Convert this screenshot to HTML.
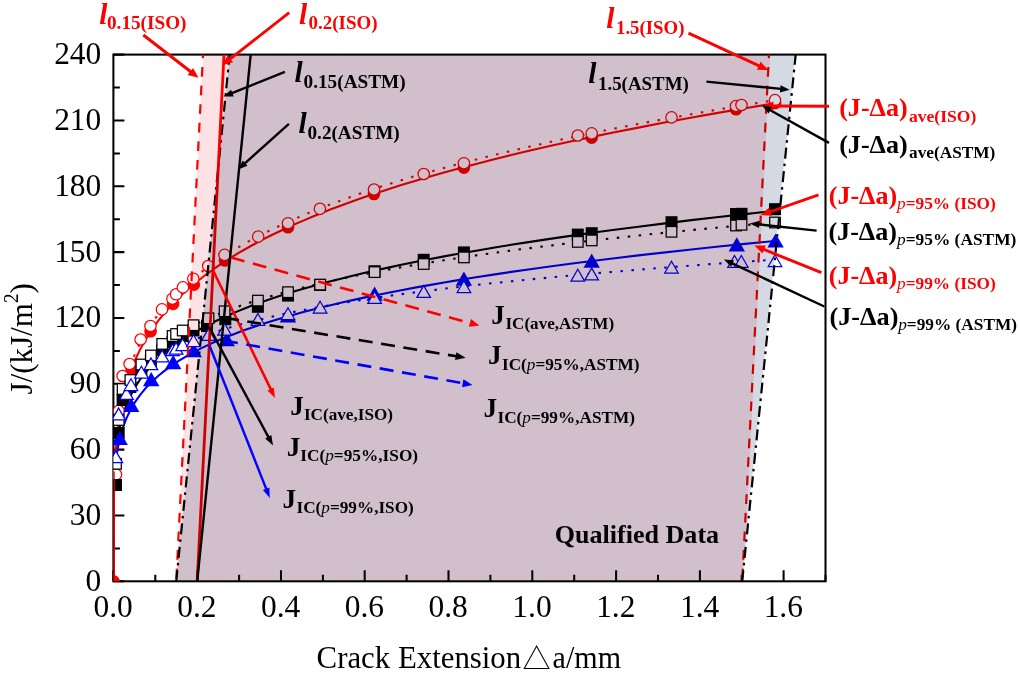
<!DOCTYPE html>
<html lang="en"><head><meta charset="utf-8"><title>J-R curves</title>
<style>html,body{margin:0;padding:0;background:#fff}svg{display:block}</style></head>
<body>
<svg width="1020" height="673" viewBox="0 0 1020 673" style="display:block">
<rect width="1020" height="673" fill="#fff"/>
<defs><clipPath id="cp"><rect x="113.4" y="54.6" width="712.1" height="526.7"/></clipPath></defs>
<rect x="113.4" y="54.6" width="712.1" height="526.7" fill="none" stroke="#000" stroke-width="2.05"/>
<path d="M113.4,581.3 v-11.0 M155.3,581.3 v-6.5 M197.2,581.3 v-11.0 M239.1,581.3 v-6.5 M281.0,581.3 v-11.0 M322.9,581.3 v-6.5 M364.7,581.3 v-11.0 M406.6,581.3 v-6.5 M448.5,581.3 v-11.0 M490.4,581.3 v-6.5 M532.3,581.3 v-11.0 M574.2,581.3 v-6.5 M616.1,581.3 v-11.0 M658.0,581.3 v-6.5 M699.9,581.3 v-11.0 M741.7,581.3 v-6.5 M783.6,581.3 v-11.0 M825.5,581.3 v-6.5 M113.4,581.3 h11.0 M113.4,548.4 h6.5 M113.4,515.5 h11.0 M113.4,482.5 h6.5 M113.4,449.6 h11.0 M113.4,416.7 h6.5 M113.4,383.8 h11.0 M113.4,350.9 h6.5 M113.4,317.9 h11.0 M113.4,285.0 h6.5 M113.4,252.1 h11.0 M113.4,219.2 h6.5 M113.4,186.3 h11.0 M113.4,153.4 h6.5 M113.4,120.4 h11.0 M113.4,87.5 h6.5 M113.4,54.6 h11.0" stroke="#000" stroke-width="2.05" fill="none"/>
<g clip-path="url(#cp)">
<rect x="111.4" y="52.6" width="716.1" height="530.7" fill="#fff"/>
<rect x="113.4" y="54.6" width="712.1" height="526.7" fill="none" stroke="#000" stroke-width="2.05"/>
<path d="M113.4,581.3 v-11.0 M155.3,581.3 v-6.5 M197.2,581.3 v-11.0 M239.1,581.3 v-6.5 M281.0,581.3 v-11.0 M322.9,581.3 v-6.5 M364.7,581.3 v-11.0 M406.6,581.3 v-6.5 M448.5,581.3 v-11.0 M490.4,581.3 v-6.5 M532.3,581.3 v-11.0 M574.2,581.3 v-6.5 M616.1,581.3 v-11.0 M658.0,581.3 v-6.5 M699.9,581.3 v-11.0 M741.7,581.3 v-6.5 M783.6,581.3 v-11.0 M825.5,581.3 v-6.5 M113.4,581.3 h11.0 M113.4,548.4 h6.5 M113.4,515.5 h11.0 M113.4,482.5 h6.5 M113.4,449.6 h11.0 M113.4,416.7 h6.5 M113.4,383.8 h11.0 M113.4,350.9 h6.5 M113.4,317.9 h11.0 M113.4,285.0 h6.5 M113.4,252.1 h11.0 M113.4,219.2 h6.5 M113.4,186.3 h11.0 M113.4,153.4 h6.5 M113.4,120.4 h11.0 M113.4,87.5 h6.5 M113.4,54.6 h11.0" stroke="#000" stroke-width="2.05" fill="none"/>
<path d="M113.4,581.3 L113.4,542.9 L113.4,542.5 L113.4,542.2 L113.4,541.8 L113.4,541.5 L113.4,541.1 L113.4,540.8 L113.4,540.4 L113.4,540.1 L113.4,539.7 L113.4,539.3 L113.4,539.0 L113.4,538.6 L113.4,538.2 L113.4,537.8 L113.4,537.5 L113.4,537.1 L113.4,536.7 L113.4,536.3 L113.4,535.9 L113.4,535.5 L113.4,535.1 L113.4,534.7 L113.4,534.3 L113.4,533.9 L113.4,533.5 L113.4,533.0 L113.4,532.6 L113.4,532.2 L113.4,531.8 L113.4,531.3 L113.4,530.9 L113.4,530.4 L113.4,530.0 L113.4,529.5 L113.4,529.1 L113.4,528.6 L113.4,528.2 L113.4,527.7 L113.4,527.2 L113.4,526.7 L113.4,526.3 L113.4,525.8 L113.4,525.3 L113.4,524.8 L113.4,524.3 L113.4,523.8 L113.4,523.3 L113.4,522.8 L113.4,522.3 L113.4,521.8 L113.4,521.2 L113.4,520.7 L113.4,520.2 L113.5,519.6 L113.5,519.1 L113.5,518.6 L113.5,518.0 L113.5,517.4 L113.5,516.9 L113.5,516.3 L113.5,515.7 L113.5,515.2 L113.5,514.6 L113.5,514.0 L113.5,513.4 L113.5,512.8 L113.5,512.2 L113.5,511.6 L113.5,511.0 L113.5,510.4 L113.5,509.8 L113.5,509.1 L113.5,508.5 L113.5,507.9 L113.5,507.2 L113.5,506.6 L113.5,505.9 L113.6,505.2 L113.6,504.6 L113.6,503.9 L113.6,503.2 L113.6,502.5 L113.6,501.8 L113.6,501.1 L113.6,500.4 L113.6,499.7 L113.6,499.0 L113.6,498.3 L113.7,497.6 L113.7,496.8 L113.7,496.1 L113.7,495.3 L113.7,494.6 L113.7,493.8 L113.7,493.0 L113.8,492.3 L113.8,491.5 L113.8,490.7 L113.8,489.9 L113.8,489.1 L113.8,488.3 L113.9,487.5 L113.9,486.6 L113.9,485.8 L113.9,485.0 L114.0,484.1 L114.0,483.3 L114.0,482.4 L114.0,481.5 L114.1,480.7 L114.1,479.8 L114.1,478.9 L114.2,478.0 L114.2,477.1 L114.3,476.2 L114.3,475.3 L114.3,474.3 L114.4,473.4 L114.4,472.4 L114.5,471.5 L114.5,470.5 L114.6,469.5 L114.6,468.6 L114.7,467.6 L114.8,466.6 L114.8,465.6 L114.9,464.5 L115.0,463.5 L115.0,462.5 L115.1,461.4 L115.2,460.4 L115.3,459.3 L115.4,458.2 L115.4,457.2 L115.5,456.1 L115.6,455.0 L115.8,453.9 L115.9,452.7 L116.0,451.6 L116.1,450.5 L116.2,449.3 L116.4,448.2 L116.5,447.0 L116.7,445.8 L116.8,444.6 L117.0,443.4 L117.1,442.2 L117.3,441.0 L117.5,439.8 L117.7,438.5 L117.9,437.3 L118.1,436.0 L118.3,434.7 L118.6,433.4 L118.8,432.1 L119.1,430.8 L119.3,429.5 L119.6,428.2 L119.9,426.8 L120.2,425.5 L120.5,424.1 L120.9,422.7 L121.2,421.3 L121.6,419.9 L122.0,418.5 L122.4,417.1 L122.8,415.6 L123.3,414.2 L123.7,412.7 L124.2,411.2 L124.7,409.7 L125.3,408.2 L125.8,406.7 L126.4,405.2 L127.0,403.6 L127.7,402.1 L128.4,400.5 L129.1,398.9 L129.8,397.3 L130.6,395.7 L131.4,394.0 L132.2,392.4 L133.1,390.7 L134.1,389.1 L135.0,387.4 L136.1,385.7 L137.1,384.0 L138.3,382.2 L139.4,380.5 L140.7,378.7 L142.0,376.9 L143.3,375.1 L144.7,373.3 L146.2,371.5 L147.8,369.7 L149.4,367.8 L151.1,365.9 L152.9,364.0 L154.7,362.1 L156.7,360.2 L158.7,358.2 L160.9,356.3 L163.1,354.3 L165.5,352.3 L167.9,350.3 L170.5,348.3 L173.2,346.2 L176.0,344.2 L179.0,342.1 L182.1,340.0 L185.4,337.9 L188.8,335.7 L192.3,333.6 L196.1,331.4 L200.0,329.2 L204.1,327.0 L208.4,324.7 L212.8,322.5 L217.5,320.2 L222.5,317.9 L227.6,315.6 L233.0,313.3 L238.7,310.9 L244.6,308.5 L250.8,306.1 L257.3,303.7 L264.1,301.3 L271.3,298.8 L278.7,296.3 L286.6,293.8 L294.7,291.3 L303.3,288.8 L312.3,286.2 L321.7,283.6 L331.6,281.0 L341.9,278.4 L352.7,275.7 L364.0,273.0 L375.9,270.3 L388.3,267.6 L401.3,264.8 L414.9,262.0 L429.2,259.2 L444.1,256.4 L459.7,253.5 L476.1,250.7 L493.3,247.8 L511.2,244.8 L530.1,241.9 L549.8,238.9 L570.4,235.9 L592.0,232.8 L614.7,229.8 L638.4,226.7 L663.2,223.6 L689.2,220.4 L716.4,217.3 L745.0,214.1 L774.8,210.8" fill="none" stroke="#000000" stroke-width="2.1" stroke-linejoin="round"/>
<path d="M113.4,581.3 L113.4,545.3 L113.4,545.0 L113.4,544.7 L113.4,544.4 L113.4,544.0 L113.4,543.7 L113.4,543.4 L113.4,543.1 L113.4,542.7 L113.4,542.4 L113.4,542.1 L113.4,541.7 L113.4,541.4 L113.4,541.0 L113.4,540.7 L113.4,540.3 L113.4,540.0 L113.4,539.6 L113.4,539.2 L113.4,538.9 L113.4,538.5 L113.4,538.1 L113.4,537.7 L113.4,537.4 L113.4,537.0 L113.4,536.6 L113.4,536.2 L113.4,535.8 L113.4,535.4 L113.4,535.0 L113.4,534.6 L113.4,534.2 L113.4,533.8 L113.4,533.4 L113.4,533.0 L113.4,532.5 L113.4,532.1 L113.4,531.7 L113.4,531.3 L113.4,530.8 L113.4,530.4 L113.4,529.9 L113.4,529.5 L113.4,529.0 L113.4,528.6 L113.4,528.1 L113.4,527.7 L113.4,527.2 L113.4,526.7 L113.4,526.2 L113.4,525.8 L113.4,525.3 L113.4,524.8 L113.4,524.3 L113.5,523.8 L113.5,523.3 L113.5,522.8 L113.5,522.3 L113.5,521.8 L113.5,521.3 L113.5,520.7 L113.5,520.2 L113.5,519.7 L113.5,519.1 L113.5,518.6 L113.5,518.1 L113.5,517.5 L113.5,516.9 L113.5,516.4 L113.5,515.8 L113.5,515.2 L113.5,514.7 L113.5,514.1 L113.5,513.5 L113.5,512.9 L113.5,512.3 L113.5,511.7 L113.5,511.1 L113.6,510.5 L113.6,509.9 L113.6,509.3 L113.6,508.6 L113.6,508.0 L113.6,507.4 L113.6,506.7 L113.6,506.1 L113.6,505.4 L113.6,504.8 L113.6,504.1 L113.7,503.4 L113.7,502.7 L113.7,502.1 L113.7,501.4 L113.7,500.7 L113.7,500.0 L113.7,499.3 L113.8,498.5 L113.8,497.8 L113.8,497.1 L113.8,496.4 L113.8,495.6 L113.8,494.9 L113.9,494.1 L113.9,493.4 L113.9,492.6 L113.9,491.8 L114.0,491.0 L114.0,490.3 L114.0,489.5 L114.0,488.7 L114.1,487.9 L114.1,487.0 L114.1,486.2 L114.2,485.4 L114.2,484.6 L114.3,483.7 L114.3,482.9 L114.3,482.0 L114.4,481.1 L114.4,480.3 L114.5,479.4 L114.5,478.5 L114.6,477.6 L114.6,476.7 L114.7,475.8 L114.8,474.9 L114.8,473.9 L114.9,473.0 L115.0,472.1 L115.0,471.1 L115.1,470.1 L115.2,469.2 L115.3,468.2 L115.4,467.2 L115.4,466.2 L115.5,465.2 L115.6,464.2 L115.8,463.2 L115.9,462.2 L116.0,461.1 L116.1,460.1 L116.2,459.0 L116.4,458.0 L116.5,456.9 L116.7,455.8 L116.8,454.7 L117.0,453.6 L117.1,452.5 L117.3,451.4 L117.5,450.2 L117.7,449.1 L117.9,447.9 L118.1,446.8 L118.3,445.6 L118.6,444.4 L118.8,443.2 L119.1,442.0 L119.3,440.8 L119.6,439.6 L119.9,438.4 L120.2,437.1 L120.5,435.9 L120.9,434.6 L121.2,433.3 L121.6,432.0 L122.0,430.7 L122.4,429.4 L122.8,428.1 L123.3,426.7 L123.7,425.4 L124.2,424.0 L124.7,422.7 L125.3,421.3 L125.8,419.9 L126.4,418.5 L127.0,417.1 L127.7,415.6 L128.4,414.2 L129.1,412.7 L129.8,411.3 L130.6,409.8 L131.4,408.3 L132.2,406.8 L133.1,405.3 L134.1,403.7 L135.0,402.2 L136.1,400.6 L137.1,399.1 L138.3,397.5 L139.4,395.9 L140.7,394.2 L142.0,392.6 L143.3,391.0 L144.7,389.3 L146.2,387.6 L147.8,386.0 L149.4,384.3 L151.1,382.5 L152.9,380.8 L154.7,379.1 L156.7,377.3 L158.7,375.5 L160.9,373.7 L163.1,371.9 L165.5,370.1 L167.9,368.3 L170.5,366.4 L173.2,364.5 L176.0,362.6 L179.0,360.7 L182.1,358.8 L185.4,356.9 L188.8,354.9 L192.3,352.9 L196.1,351.0 L200.0,348.9 L204.1,346.9 L208.4,344.9 L212.8,342.8 L217.5,340.7 L222.5,338.6 L227.6,336.5 L233.0,334.4 L238.7,332.3 L244.6,330.1 L250.8,327.9 L257.3,325.7 L264.1,323.5 L271.3,321.2 L278.7,318.9 L286.6,316.7 L294.7,314.4 L303.3,312.0 L312.3,309.7 L321.7,307.3 L331.6,304.9 L341.9,302.5 L352.7,300.1 L364.0,297.6 L375.9,295.2 L388.3,292.7 L401.3,290.2 L414.9,287.6 L429.2,285.1 L444.1,282.5 L459.7,279.9 L476.1,277.3 L493.3,274.6 L511.2,271.9 L530.1,269.2 L549.8,266.5 L570.4,263.8 L592.0,261.0 L614.7,258.2 L638.4,255.4 L663.2,252.6 L689.2,249.7 L716.4,246.8 L745.0,243.9 L774.8,241.0" fill="none" stroke="#0000ff" stroke-width="2.1" stroke-linejoin="round"/>
<path d="M113.4,581.3 L113.4,549.2 L113.4,548.9 L113.4,548.5 L113.4,548.2 L113.4,547.8 L113.4,547.5 L113.4,547.1 L113.4,546.8 L113.4,546.4 L113.4,546.0 L113.4,545.7 L113.4,545.3 L113.4,544.9 L113.4,544.5 L113.4,544.2 L113.4,543.8 L113.4,543.4 L113.4,543.0 L113.4,542.6 L113.4,542.2 L113.4,541.8 L113.4,541.3 L113.4,540.9 L113.4,540.5 L113.4,540.1 L113.4,539.6 L113.4,539.2 L113.4,538.8 L113.4,538.3 L113.4,537.9 L113.4,537.4 L113.4,537.0 L113.4,536.5 L113.4,536.0 L113.4,535.5 L113.4,535.1 L113.4,534.6 L113.4,534.1 L113.4,533.6 L113.4,533.1 L113.4,532.6 L113.4,532.1 L113.4,531.6 L113.4,531.0 L113.4,530.5 L113.4,530.0 L113.4,529.4 L113.4,528.9 L113.4,528.3 L113.4,527.8 L113.4,527.2 L113.4,526.7 L113.4,526.1 L113.4,525.5 L113.5,524.9 L113.5,524.3 L113.5,523.7 L113.5,523.1 L113.5,522.5 L113.5,521.9 L113.5,521.3 L113.5,520.7 L113.5,520.0 L113.5,519.4 L113.5,518.7 L113.5,518.1 L113.5,517.4 L113.5,516.7 L113.5,516.1 L113.5,515.4 L113.5,514.7 L113.5,514.0 L113.5,513.3 L113.5,512.6 L113.5,511.9 L113.5,511.1 L113.5,510.4 L113.5,509.7 L113.6,508.9 L113.6,508.1 L113.6,507.4 L113.6,506.6 L113.6,505.8 L113.6,505.0 L113.6,504.2 L113.6,503.4 L113.6,502.6 L113.6,501.8 L113.6,500.9 L113.7,500.1 L113.7,499.2 L113.7,498.4 L113.7,497.5 L113.7,496.6 L113.7,495.8 L113.7,494.9 L113.8,494.0 L113.8,493.0 L113.8,492.1 L113.8,491.2 L113.8,490.2 L113.8,489.3 L113.9,488.3 L113.9,487.3 L113.9,486.4 L113.9,485.4 L114.0,484.3 L114.0,483.3 L114.0,482.3 L114.0,481.3 L114.1,480.2 L114.1,479.2 L114.1,478.1 L114.2,477.0 L114.2,475.9 L114.3,474.8 L114.3,473.7 L114.3,472.6 L114.4,471.4 L114.4,470.3 L114.5,469.1 L114.5,467.9 L114.6,466.7 L114.6,465.5 L114.7,464.3 L114.8,463.1 L114.8,461.9 L114.9,460.6 L115.0,459.4 L115.0,458.1 L115.1,456.8 L115.2,455.5 L115.3,454.2 L115.4,452.8 L115.4,451.5 L115.5,450.1 L115.6,448.7 L115.8,447.4 L115.9,445.9 L116.0,444.5 L116.1,443.1 L116.2,441.6 L116.4,440.2 L116.5,438.7 L116.7,437.2 L116.8,435.7 L117.0,434.2 L117.1,432.6 L117.3,431.1 L117.5,429.5 L117.7,427.9 L117.9,426.3 L118.1,424.7 L118.3,423.0 L118.6,421.4 L118.8,419.7 L119.1,418.0 L119.3,416.3 L119.6,414.6 L119.9,412.8 L120.2,411.0 L120.5,409.3 L120.9,407.5 L121.2,405.6 L121.6,403.8 L122.0,401.9 L122.4,400.1 L122.8,398.2 L123.3,396.2 L123.7,394.3 L124.2,392.3 L124.7,390.4 L125.3,388.3 L125.8,386.3 L126.4,384.3 L127.0,382.2 L127.7,380.1 L128.4,378.0 L129.1,375.9 L129.8,373.7 L130.6,371.6 L131.4,369.4 L132.2,367.1 L133.1,364.9 L134.1,362.6 L135.0,360.3 L136.1,358.0 L137.1,355.7 L138.3,353.3 L139.4,350.9 L140.7,348.5 L142.0,346.1 L143.3,343.6 L144.7,341.1 L146.2,338.6 L147.8,336.1 L149.4,333.5 L151.1,330.9 L152.9,328.3 L154.7,325.6 L156.7,322.9 L158.7,320.2 L160.9,317.5 L163.1,314.7 L165.5,311.9 L167.9,309.1 L170.5,306.2 L173.2,303.4 L176.0,300.4 L179.0,297.5 L182.1,294.5 L185.4,291.5 L188.8,288.5 L192.3,285.4 L196.1,282.3 L200.0,279.2 L204.1,276.0 L208.4,272.8 L212.8,269.6 L217.5,266.3 L222.5,263.0 L227.6,259.7 L233.0,256.3 L238.7,252.9 L244.6,249.5 L250.8,246.0 L257.3,242.5 L264.1,238.9 L271.3,235.3 L278.7,231.7 L286.6,228.0 L294.7,224.3 L303.3,220.6 L312.3,216.8 L321.7,213.0 L331.6,209.1 L341.9,205.2 L352.7,201.3 L364.0,197.3 L375.9,193.3 L388.3,189.2 L401.3,185.1 L414.9,180.9 L429.2,176.7 L444.1,172.5 L459.7,168.2 L476.1,163.9 L493.3,159.5 L511.2,155.1 L530.1,150.6 L549.8,146.1 L570.4,141.5 L592.0,136.9 L614.7,132.3 L638.4,127.6 L663.2,122.8 L689.2,118.0 L716.4,113.1 L745.0,108.2 L774.8,103.3" fill="none" stroke="#ff0000" stroke-width="2.1" stroke-linejoin="round"/>
<path d="M113.4,581.3 L113.4,528.6 L113.4,528.2 L113.4,527.8 L113.4,527.4 L113.4,527.0 L113.4,526.6 L113.4,526.2 L113.4,525.8 L113.4,525.4 L113.4,524.9 L113.4,524.5 L113.4,524.1 L113.4,523.7 L113.4,523.3 L113.4,522.8 L113.4,522.4 L113.4,522.0 L113.4,521.5 L113.4,521.1 L113.4,520.6 L113.4,520.2 L113.4,519.7 L113.4,519.3 L113.4,518.8 L113.4,518.3 L113.4,517.9 L113.4,517.4 L113.4,516.9 L113.4,516.4 L113.4,516.0 L113.4,515.5 L113.4,515.0 L113.4,514.5 L113.4,514.0 L113.4,513.5 L113.4,513.0 L113.4,512.5 L113.4,512.0 L113.4,511.5 L113.4,510.9 L113.4,510.4 L113.4,509.9 L113.4,509.4 L113.4,508.8 L113.4,508.3 L113.4,507.7 L113.4,507.2 L113.4,506.6 L113.4,506.1 L113.4,505.5 L113.4,505.0 L113.4,504.4 L113.4,503.8 L113.4,503.2 L113.5,502.7 L113.5,502.1 L113.5,501.5 L113.5,500.9 L113.5,500.3 L113.5,499.7 L113.5,499.1 L113.5,498.5 L113.5,497.9 L113.5,497.2 L113.5,496.6 L113.5,496.0 L113.5,495.4 L113.5,494.7 L113.5,494.1 L113.5,493.4 L113.5,492.8 L113.5,492.1 L113.5,491.5 L113.5,490.8 L113.5,490.1 L113.5,489.4 L113.5,488.8 L113.5,488.1 L113.6,487.4 L113.6,486.7 L113.6,486.0 L113.6,485.3 L113.6,484.5 L113.6,483.8 L113.6,483.1 L113.6,482.4 L113.6,481.6 L113.6,480.9 L113.6,480.2 L113.7,479.4 L113.7,478.6 L113.7,477.9 L113.7,477.1 L113.7,476.3 L113.7,475.6 L113.7,474.8 L113.8,474.0 L113.8,473.2 L113.8,472.4 L113.8,471.6 L113.8,470.8 L113.8,469.9 L113.9,469.1 L113.9,468.3 L113.9,467.4 L113.9,466.6 L114.0,465.7 L114.0,464.9 L114.0,464.0 L114.0,463.1 L114.1,462.3 L114.1,461.4 L114.1,460.5 L114.2,459.6 L114.2,458.7 L114.3,457.8 L114.3,456.8 L114.3,455.9 L114.4,455.0 L114.4,454.0 L114.5,453.1 L114.5,452.2 L114.6,451.2 L114.6,450.2 L114.7,449.3 L114.8,448.3 L114.8,447.3 L114.9,446.3 L115.0,445.3 L115.0,444.3 L115.1,443.3 L115.2,442.2 L115.3,441.2 L115.4,440.1 L115.4,439.1 L115.5,438.0 L115.6,437.0 L115.8,435.9 L115.9,434.8 L116.0,433.7 L116.1,432.6 L116.2,431.5 L116.4,430.4 L116.5,429.3 L116.7,428.2 L116.8,427.0 L117.0,425.9 L117.1,424.7 L117.3,423.6 L117.5,422.4 L117.7,421.2 L117.9,420.0 L118.1,418.8 L118.3,417.6 L118.6,416.4 L118.8,415.2 L119.1,413.9 L119.3,412.7 L119.6,411.4 L119.9,410.2 L120.2,408.9 L120.5,407.6 L120.9,406.3 L121.2,405.0 L121.6,403.7 L122.0,402.4 L122.4,401.1 L122.8,399.7 L123.3,398.4 L123.7,397.0 L124.2,395.7 L124.7,394.3 L125.3,392.9 L125.8,391.5 L126.4,390.1 L127.0,388.7 L127.7,387.2 L128.4,385.8 L129.1,384.3 L129.8,382.9 L130.6,381.4 L131.4,379.9 L132.2,378.4 L133.1,376.9 L134.1,375.4 L135.0,373.8 L136.1,372.3 L137.1,370.8 L138.3,369.2 L139.4,367.6 L140.7,366.0 L142.0,364.4 L143.3,362.8 L144.7,361.2 L146.2,359.6 L147.8,357.9 L149.4,356.2 L151.1,354.6 L152.9,352.9 L154.7,351.2 L156.7,349.5 L158.7,347.8 L160.9,346.0 L163.1,344.3 L165.5,342.5 L167.9,340.7 L170.5,338.9 L173.2,337.1 L176.0,335.3 L179.0,333.5 L182.1,331.7 L185.4,329.8 L188.8,327.9 L192.3,326.1 L196.1,324.2 L200.0,322.2 L204.1,320.3 L208.4,318.4 L212.8,316.4 L217.5,314.5 L222.5,312.5 L227.6,310.5 L233.0,308.5 L238.7,306.4 L244.6,304.4 L250.8,302.3 L257.3,300.3 L264.1,298.2 L271.3,296.1 L278.7,293.9 L286.6,291.8 L294.7,289.7 L303.3,287.5 L312.3,285.3 L321.7,283.1 L331.6,280.9 L341.9,278.7 L352.7,276.4 L364.0,274.1 L375.9,271.9 L388.3,269.6 L401.3,267.2 L414.9,264.9 L429.2,262.6 L444.1,260.2 L459.7,257.8 L476.1,255.4 L493.3,253.0 L511.2,250.5 L530.1,248.1 L549.8,245.6 L570.4,243.1 L592.0,240.6 L614.7,238.1 L638.4,235.5 L663.2,232.9 L689.2,230.3 L716.4,227.7 L745.0,225.1 L774.8,222.5" fill="none" stroke="#000000" stroke-width="2.1" stroke-dasharray="2.5 8.5" stroke-dashoffset="4"/>
<path d="M113.4,581.3 L113.4,518.5 L113.4,518.1 L113.4,517.7 L113.4,517.3 L113.4,516.9 L113.4,516.5 L113.4,516.1 L113.4,515.7 L113.4,515.2 L113.4,514.8 L113.4,514.4 L113.4,514.0 L113.4,513.6 L113.4,513.1 L113.4,512.7 L113.4,512.3 L113.4,511.8 L113.4,511.4 L113.4,510.9 L113.4,510.5 L113.4,510.1 L113.4,509.6 L113.4,509.1 L113.4,508.7 L113.4,508.2 L113.4,507.8 L113.4,507.3 L113.4,506.8 L113.4,506.4 L113.4,505.9 L113.4,505.4 L113.4,504.9 L113.4,504.5 L113.4,504.0 L113.4,503.5 L113.4,503.0 L113.4,502.5 L113.4,502.0 L113.4,501.5 L113.4,501.0 L113.4,500.5 L113.4,500.0 L113.4,499.5 L113.4,498.9 L113.4,498.4 L113.4,497.9 L113.4,497.4 L113.4,496.8 L113.4,496.3 L113.4,495.8 L113.4,495.2 L113.4,494.7 L113.4,494.1 L113.4,493.6 L113.5,493.0 L113.5,492.5 L113.5,491.9 L113.5,491.3 L113.5,490.8 L113.5,490.2 L113.5,489.6 L113.5,489.0 L113.5,488.4 L113.5,487.9 L113.5,487.3 L113.5,486.7 L113.5,486.1 L113.5,485.5 L113.5,484.9 L113.5,484.3 L113.5,483.6 L113.5,483.0 L113.5,482.4 L113.5,481.8 L113.5,481.2 L113.5,480.5 L113.5,479.9 L113.5,479.2 L113.6,478.6 L113.6,477.9 L113.6,477.3 L113.6,476.6 L113.6,476.0 L113.6,475.3 L113.6,474.6 L113.6,474.0 L113.6,473.3 L113.6,472.6 L113.6,471.9 L113.7,471.2 L113.7,470.5 L113.7,469.8 L113.7,469.1 L113.7,468.4 L113.7,467.7 L113.7,467.0 L113.8,466.2 L113.8,465.5 L113.8,464.8 L113.8,464.0 L113.8,463.3 L113.8,462.6 L113.9,461.8 L113.9,461.1 L113.9,460.3 L113.9,459.5 L114.0,458.8 L114.0,458.0 L114.0,457.2 L114.0,456.4 L114.1,455.6 L114.1,454.8 L114.1,454.0 L114.2,453.2 L114.2,452.4 L114.3,451.6 L114.3,450.8 L114.3,450.0 L114.4,449.1 L114.4,448.3 L114.5,447.4 L114.5,446.6 L114.6,445.7 L114.6,444.9 L114.7,444.0 L114.8,443.2 L114.8,442.3 L114.9,441.4 L115.0,440.5 L115.0,439.6 L115.1,438.7 L115.2,437.8 L115.3,436.9 L115.4,436.0 L115.4,435.1 L115.5,434.2 L115.6,433.2 L115.8,432.3 L115.9,431.4 L116.0,430.4 L116.1,429.5 L116.2,428.5 L116.4,427.5 L116.5,426.6 L116.7,425.6 L116.8,424.6 L117.0,423.6 L117.1,422.6 L117.3,421.6 L117.5,420.6 L117.7,419.6 L117.9,418.5 L118.1,417.5 L118.3,416.5 L118.6,415.4 L118.8,414.4 L119.1,413.3 L119.3,412.3 L119.6,411.2 L119.9,410.1 L120.2,409.0 L120.5,408.0 L120.9,406.9 L121.2,405.8 L121.6,404.6 L122.0,403.5 L122.4,402.4 L122.8,401.3 L123.3,400.1 L123.7,399.0 L124.2,397.8 L124.7,396.7 L125.3,395.5 L125.8,394.3 L126.4,393.1 L127.0,392.0 L127.7,390.8 L128.4,389.6 L129.1,388.3 L129.8,387.1 L130.6,385.9 L131.4,384.7 L132.2,383.4 L133.1,382.2 L134.1,380.9 L135.0,379.6 L136.1,378.4 L137.1,377.1 L138.3,375.8 L139.4,374.5 L140.7,373.2 L142.0,371.9 L143.3,370.5 L144.7,369.2 L146.2,367.9 L147.8,366.5 L149.4,365.1 L151.1,363.8 L152.9,362.4 L154.7,361.0 L156.7,359.6 L158.7,358.2 L160.9,356.8 L163.1,355.4 L165.5,354.0 L167.9,352.5 L170.5,351.1 L173.2,349.6 L176.0,348.2 L179.0,346.7 L182.1,345.2 L185.4,343.7 L188.8,342.2 L192.3,340.7 L196.1,339.2 L200.0,337.6 L204.1,336.1 L208.4,334.5 L212.8,333.0 L217.5,331.4 L222.5,329.8 L227.6,328.2 L233.0,326.6 L238.7,325.0 L244.6,323.4 L250.8,321.8 L257.3,320.1 L264.1,318.5 L271.3,316.8 L278.7,315.1 L286.6,313.5 L294.7,311.8 L303.3,310.1 L312.3,308.3 L321.7,306.6 L331.6,304.9 L341.9,303.1 L352.7,301.4 L364.0,299.6 L375.9,297.8 L388.3,296.0 L401.3,294.2 L414.9,292.4 L429.2,290.6 L444.1,288.7 L459.7,286.9 L476.1,285.0 L493.3,283.1 L511.2,281.3 L530.1,279.4 L549.8,277.5 L570.4,275.5 L592.0,273.6 L614.7,271.7 L638.4,269.7 L663.2,267.7 L689.2,265.7 L716.4,263.7 L745.0,261.7 L774.8,259.7" fill="none" stroke="#0000ff" stroke-width="2.1" stroke-dasharray="2.5 8.5" stroke-dashoffset="4"/>
<path d="M113.4,581.3 L113.4,546.3 L113.4,546.0 L113.4,545.6 L113.4,545.2 L113.4,544.9 L113.4,544.5 L113.4,544.1 L113.4,543.7 L113.4,543.4 L113.4,543.0 L113.4,542.6 L113.4,542.2 L113.4,541.8 L113.4,541.4 L113.4,541.0 L113.4,540.6 L113.4,540.2 L113.4,539.7 L113.4,539.3 L113.4,538.9 L113.4,538.5 L113.4,538.0 L113.4,537.6 L113.4,537.1 L113.4,536.7 L113.4,536.2 L113.4,535.8 L113.4,535.3 L113.4,534.8 L113.4,534.4 L113.4,533.9 L113.4,533.4 L113.4,532.9 L113.4,532.4 L113.4,531.9 L113.4,531.4 L113.4,530.9 L113.4,530.4 L113.4,529.9 L113.4,529.4 L113.4,528.8 L113.4,528.3 L113.4,527.8 L113.4,527.2 L113.4,526.7 L113.4,526.1 L113.4,525.6 L113.4,525.0 L113.4,524.4 L113.4,523.8 L113.4,523.3 L113.4,522.7 L113.4,522.1 L113.4,521.5 L113.5,520.9 L113.5,520.3 L113.5,519.6 L113.5,519.0 L113.5,518.4 L113.5,517.7 L113.5,517.1 L113.5,516.4 L113.5,515.8 L113.5,515.1 L113.5,514.4 L113.5,513.8 L113.5,513.1 L113.5,512.4 L113.5,511.7 L113.5,511.0 L113.5,510.2 L113.5,509.5 L113.5,508.8 L113.5,508.1 L113.5,507.3 L113.5,506.6 L113.5,505.8 L113.5,505.0 L113.6,504.3 L113.6,503.5 L113.6,502.7 L113.6,501.9 L113.6,501.1 L113.6,500.3 L113.6,499.4 L113.6,498.6 L113.6,497.8 L113.6,496.9 L113.6,496.0 L113.7,495.2 L113.7,494.3 L113.7,493.4 L113.7,492.5 L113.7,491.6 L113.7,490.7 L113.7,489.8 L113.8,488.9 L113.8,487.9 L113.8,487.0 L113.8,486.0 L113.8,485.0 L113.8,484.1 L113.9,483.1 L113.9,482.1 L113.9,481.1 L113.9,480.0 L114.0,479.0 L114.0,478.0 L114.0,476.9 L114.0,475.9 L114.1,474.8 L114.1,473.7 L114.1,472.6 L114.2,471.5 L114.2,470.4 L114.3,469.3 L114.3,468.1 L114.3,467.0 L114.4,465.8 L114.4,464.6 L114.5,463.4 L114.5,462.2 L114.6,461.0 L114.6,459.8 L114.7,458.6 L114.8,457.3 L114.8,456.1 L114.9,454.8 L115.0,453.5 L115.0,452.2 L115.1,450.9 L115.2,449.6 L115.3,448.2 L115.4,446.9 L115.4,445.5 L115.5,444.1 L115.6,442.7 L115.8,441.3 L115.9,439.9 L116.0,438.5 L116.1,437.0 L116.2,435.5 L116.4,434.1 L116.5,432.6 L116.7,431.0 L116.8,429.5 L117.0,428.0 L117.1,426.4 L117.3,424.8 L117.5,423.2 L117.7,421.6 L117.9,420.0 L118.1,418.4 L118.3,416.7 L118.6,415.0 L118.8,413.4 L119.1,411.6 L119.3,409.9 L119.6,408.2 L119.9,406.4 L120.2,404.6 L120.5,402.8 L120.9,401.0 L121.2,399.2 L121.6,397.3 L122.0,395.5 L122.4,393.6 L122.8,391.7 L123.3,389.7 L123.7,387.8 L124.2,385.8 L124.7,383.8 L125.3,381.8 L125.8,379.8 L126.4,377.7 L127.0,375.7 L127.7,373.6 L128.4,371.5 L129.1,369.3 L129.8,367.2 L130.6,365.0 L131.4,362.8 L132.2,360.6 L133.1,358.3 L134.1,356.1 L135.0,353.8 L136.1,351.5 L137.1,349.1 L138.3,346.8 L139.4,344.4 L140.7,342.0 L142.0,339.5 L143.3,337.1 L144.7,334.6 L146.2,332.1 L147.8,329.5 L149.4,327.0 L151.1,324.4 L152.9,321.8 L154.7,319.1 L156.7,316.5 L158.7,313.8 L160.9,311.1 L163.1,308.3 L165.5,305.5 L167.9,302.7 L170.5,299.9 L173.2,297.0 L176.0,294.2 L179.0,291.2 L182.1,288.3 L185.4,285.3 L188.8,282.3 L192.3,279.2 L196.1,276.2 L200.0,273.1 L204.1,269.9 L208.4,266.8 L212.8,263.6 L217.5,260.3 L222.5,257.1 L227.6,253.8 L233.0,250.4 L238.7,247.1 L244.6,243.7 L250.8,240.2 L257.3,236.8 L264.1,233.3 L271.3,229.7 L278.7,226.2 L286.6,222.5 L294.7,218.9 L303.3,215.2 L312.3,211.5 L321.7,207.7 L331.6,203.9 L341.9,200.1 L352.7,196.2 L364.0,192.3 L375.9,188.3 L388.3,184.3 L401.3,180.3 L414.9,176.2 L429.2,172.1 L444.1,167.9 L459.7,163.7 L476.1,159.5 L493.3,155.2 L511.2,150.9 L530.1,146.5 L549.8,142.1 L570.4,137.6 L592.0,133.1 L614.7,128.5 L638.4,123.9 L663.2,119.3 L689.2,114.6 L716.4,109.8 L745.0,105.0 L774.8,100.2" fill="none" stroke="#ff0000" stroke-width="2.1" stroke-dasharray="2.5 8.5" stroke-dashoffset="4"/>
<circle cx="113.4" cy="581.3" r="6.3" fill="#ff0000"/>
<circle cx="131.6" cy="370.5" r="6.3" fill="#ff0000"/>
<circle cx="150.6" cy="331.2" r="6.3" fill="#ff0000"/>
<circle cx="173.1" cy="303.9" r="6.3" fill="#ff0000"/>
<circle cx="193.9" cy="284.6" r="6.3" fill="#ff0000"/>
<circle cx="225.0" cy="260.5" r="6.3" fill="#ff0000"/>
<circle cx="288.0" cy="227.3" r="6.3" fill="#ff0000"/>
<circle cx="374.0" cy="194.0" r="6.3" fill="#ff0000"/>
<circle cx="463.9" cy="167.6" r="6.3" fill="#ff0000"/>
<circle cx="591.7" cy="137.6" r="6.3" fill="#ff0000"/>
<circle cx="736.0" cy="109.2" r="6.3" fill="#ff0000"/>
<circle cx="775.0" cy="103.0" r="6.3" fill="#ff0000"/>
<circle cx="116.0" cy="474.5" r="5.7" fill="#fff" stroke="#ff0000" stroke-width="1.25"/>
<circle cx="118.7" cy="411.0" r="5.7" fill="#fff" stroke="#ff0000" stroke-width="1.25"/>
<circle cx="122.6" cy="376.0" r="5.7" fill="#fff" stroke="#ff0000" stroke-width="1.25"/>
<circle cx="129.6" cy="364.0" r="5.7" fill="#fff" stroke="#ff0000" stroke-width="1.25"/>
<circle cx="140.6" cy="339.5" r="5.7" fill="#fff" stroke="#ff0000" stroke-width="1.25"/>
<circle cx="150.5" cy="326.0" r="5.7" fill="#fff" stroke="#ff0000" stroke-width="1.25"/>
<circle cx="162.0" cy="309.4" r="5.7" fill="#fff" stroke="#ff0000" stroke-width="1.25"/>
<circle cx="172.4" cy="298.7" r="5.7" fill="#fff" stroke="#ff0000" stroke-width="1.25"/>
<circle cx="176.1" cy="294.3" r="5.7" fill="#fff" stroke="#ff0000" stroke-width="1.25"/>
<circle cx="182.9" cy="287.4" r="5.7" fill="#fff" stroke="#ff0000" stroke-width="1.25"/>
<circle cx="193.3" cy="278.7" r="5.7" fill="#fff" stroke="#ff0000" stroke-width="1.25"/>
<circle cx="208.2" cy="266.0" r="5.7" fill="#fff" stroke="#ff0000" stroke-width="1.25"/>
<circle cx="224.5" cy="254.9" r="5.7" fill="#fff" stroke="#ff0000" stroke-width="1.25"/>
<circle cx="258.2" cy="236.6" r="5.7" fill="#fff" stroke="#ff0000" stroke-width="1.25"/>
<circle cx="288.0" cy="223.2" r="5.7" fill="#fff" stroke="#ff0000" stroke-width="1.25"/>
<circle cx="319.9" cy="208.8" r="5.7" fill="#fff" stroke="#ff0000" stroke-width="1.25"/>
<circle cx="374.0" cy="189.5" r="5.7" fill="#fff" stroke="#ff0000" stroke-width="1.25"/>
<circle cx="423.7" cy="174.0" r="5.7" fill="#fff" stroke="#ff0000" stroke-width="1.25"/>
<circle cx="463.9" cy="163.2" r="5.7" fill="#fff" stroke="#ff0000" stroke-width="1.25"/>
<circle cx="577.8" cy="135.5" r="5.7" fill="#fff" stroke="#ff0000" stroke-width="1.25"/>
<circle cx="591.7" cy="133.4" r="5.7" fill="#fff" stroke="#ff0000" stroke-width="1.25"/>
<circle cx="671.5" cy="117.4" r="5.7" fill="#fff" stroke="#ff0000" stroke-width="1.25"/>
<circle cx="736.0" cy="106.0" r="5.7" fill="#fff" stroke="#ff0000" stroke-width="1.25"/>
<circle cx="741.5" cy="105.0" r="5.7" fill="#fff" stroke="#ff0000" stroke-width="1.25"/>
<circle cx="775.0" cy="100.1" r="5.7" fill="#fff" stroke="#ff0000" stroke-width="1.25"/>
<rect x="110.0" y="479.0" width="12" height="12" fill="#000000"/>
<rect x="112.7" y="427.0" width="12" height="12" fill="#000000"/>
<rect x="116.6" y="394.0" width="12" height="12" fill="#000000"/>
<rect x="124.4" y="381.0" width="12" height="12" fill="#000000"/>
<rect x="135.4" y="366.0" width="12" height="12" fill="#000000"/>
<rect x="144.9" y="355.0" width="12" height="12" fill="#000000"/>
<rect x="156.2" y="344.0" width="12" height="12" fill="#000000"/>
<rect x="166.6" y="336.0" width="12" height="12" fill="#000000"/>
<rect x="170.1" y="334.0" width="12" height="12" fill="#000000"/>
<rect x="176.7" y="330.0" width="12" height="12" fill="#000000"/>
<rect x="187.5" y="324.5" width="12" height="12" fill="#000000"/>
<rect x="201.0" y="320.0" width="12" height="12" fill="#000000"/>
<rect x="219.3" y="313.2" width="12" height="12" fill="#000000"/>
<rect x="251.9" y="300.8" width="12" height="12" fill="#000000"/>
<rect x="282.0" y="289.6" width="12" height="12" fill="#000000"/>
<rect x="314.1" y="279.0" width="12" height="12" fill="#000000"/>
<rect x="368.6" y="265.2" width="12" height="12" fill="#000000"/>
<rect x="417.7" y="253.8" width="12" height="12" fill="#000000"/>
<rect x="457.9" y="246.4" width="12" height="12" fill="#000000"/>
<rect x="571.8" y="228.6" width="12" height="12" fill="#000000"/>
<rect x="585.7" y="227.2" width="12" height="12" fill="#000000"/>
<rect x="665.5" y="216.2" width="12" height="12" fill="#000000"/>
<rect x="730.0" y="208.0" width="12" height="12" fill="#000000"/>
<rect x="735.5" y="207.8" width="12" height="12" fill="#000000"/>
<rect x="769.0" y="203.2" width="12" height="12" fill="#000000"/>
<rect x="110.7" y="458.5" width="10.6" height="10.6" fill="#fff" stroke="#000000" stroke-width="1.25"/>
<rect x="113.4" y="414.7" width="10.6" height="10.6" fill="#fff" stroke="#000000" stroke-width="1.25"/>
<rect x="117.3" y="383.7" width="10.6" height="10.6" fill="#fff" stroke="#000000" stroke-width="1.25"/>
<rect x="125.1" y="374.7" width="10.6" height="10.6" fill="#fff" stroke="#000000" stroke-width="1.25"/>
<rect x="136.1" y="359.2" width="10.6" height="10.6" fill="#fff" stroke="#000000" stroke-width="1.25"/>
<rect x="145.6" y="350.2" width="10.6" height="10.6" fill="#fff" stroke="#000000" stroke-width="1.25"/>
<rect x="156.9" y="338.6" width="10.6" height="10.6" fill="#fff" stroke="#000000" stroke-width="1.25"/>
<rect x="167.3" y="330.7" width="10.6" height="10.6" fill="#fff" stroke="#000000" stroke-width="1.25"/>
<rect x="170.8" y="328.7" width="10.6" height="10.6" fill="#fff" stroke="#000000" stroke-width="1.25"/>
<rect x="177.4" y="325.2" width="10.6" height="10.6" fill="#fff" stroke="#000000" stroke-width="1.25"/>
<rect x="188.2" y="319.9" width="10.6" height="10.6" fill="#fff" stroke="#000000" stroke-width="1.25"/>
<rect x="203.2" y="313.0" width="10.6" height="10.6" fill="#fff" stroke="#000000" stroke-width="1.25"/>
<rect x="219.3" y="306.0" width="10.6" height="10.6" fill="#fff" stroke="#000000" stroke-width="1.25"/>
<rect x="252.6" y="295.3" width="10.6" height="10.6" fill="#fff" stroke="#000000" stroke-width="1.25"/>
<rect x="282.7" y="286.9" width="10.6" height="10.6" fill="#fff" stroke="#000000" stroke-width="1.25"/>
<rect x="314.8" y="279.3" width="10.6" height="10.6" fill="#fff" stroke="#000000" stroke-width="1.25"/>
<rect x="369.3" y="266.8" width="10.6" height="10.6" fill="#fff" stroke="#000000" stroke-width="1.25"/>
<rect x="418.4" y="258.7" width="10.6" height="10.6" fill="#fff" stroke="#000000" stroke-width="1.25"/>
<rect x="458.6" y="252.1" width="10.6" height="10.6" fill="#fff" stroke="#000000" stroke-width="1.25"/>
<rect x="572.5" y="236.6" width="10.6" height="10.6" fill="#fff" stroke="#000000" stroke-width="1.25"/>
<rect x="586.4" y="235.1" width="10.6" height="10.6" fill="#fff" stroke="#000000" stroke-width="1.25"/>
<rect x="666.2" y="226.5" width="10.6" height="10.6" fill="#fff" stroke="#000000" stroke-width="1.25"/>
<rect x="730.7" y="220.2" width="10.6" height="10.6" fill="#fff" stroke="#000000" stroke-width="1.25"/>
<rect x="736.2" y="219.5" width="10.6" height="10.6" fill="#fff" stroke="#000000" stroke-width="1.25"/>
<rect x="769.7" y="217.2" width="10.6" height="10.6" fill="#fff" stroke="#000000" stroke-width="1.25"/>
<path d="M119.7,430.9 l8.2,14.2 h-16.4 z" fill="#0000ff"/>
<path d="M131.2,397.7 l8.2,14.2 h-16.4 z" fill="#0000ff"/>
<path d="M151.2,372.0 l8.2,14.2 h-16.4 z" fill="#0000ff"/>
<path d="M173.2,355.0 l8.2,14.2 h-16.4 z" fill="#0000ff"/>
<path d="M193.7,343.0 l8.2,14.2 h-16.4 z" fill="#0000ff"/>
<path d="M226.8,332.0 l8.2,14.2 h-16.4 z" fill="#0000ff"/>
<path d="M288.0,308.4 l8.2,14.2 h-16.4 z" fill="#0000ff"/>
<path d="M374.6,286.6 l8.2,14.2 h-16.4 z" fill="#0000ff"/>
<path d="M463.9,271.6 l8.2,14.2 h-16.4 z" fill="#0000ff"/>
<path d="M591.7,253.6 l8.2,14.2 h-16.4 z" fill="#0000ff"/>
<path d="M736.8,237.2 l8.2,14.2 h-16.4 z" fill="#0000ff"/>
<path d="M775.6,233.4 l8.2,14.2 h-16.4 z" fill="#0000ff"/>
<path d="M115.8,450.9 l6.8,11.8 h-13.6 z" fill="#fff" stroke="#0000ff" stroke-width="1.25"/>
<path d="M118.6,408.1 l6.8,11.8 h-13.6 z" fill="#fff" stroke="#0000ff" stroke-width="1.25"/>
<path d="M126.5,387.6 l6.8,11.8 h-13.6 z" fill="#fff" stroke="#0000ff" stroke-width="1.25"/>
<path d="M131.0,378.7 l6.8,11.8 h-13.6 z" fill="#fff" stroke="#0000ff" stroke-width="1.25"/>
<path d="M141.4,366.2 l6.8,11.8 h-13.6 z" fill="#fff" stroke="#0000ff" stroke-width="1.25"/>
<path d="M150.9,357.9 l6.8,11.8 h-13.6 z" fill="#fff" stroke="#0000ff" stroke-width="1.25"/>
<path d="M162.1,350.1 l6.8,11.8 h-13.6 z" fill="#fff" stroke="#0000ff" stroke-width="1.25"/>
<path d="M172.6,343.9 l6.8,11.8 h-13.6 z" fill="#fff" stroke="#0000ff" stroke-width="1.25"/>
<path d="M176.1,342.4 l6.8,11.8 h-13.6 z" fill="#fff" stroke="#0000ff" stroke-width="1.25"/>
<path d="M182.7,338.7 l6.8,11.8 h-13.6 z" fill="#fff" stroke="#0000ff" stroke-width="1.25"/>
<path d="M193.5,334.7 l6.8,11.8 h-13.6 z" fill="#fff" stroke="#0000ff" stroke-width="1.25"/>
<path d="M208.5,328.6 l6.8,11.8 h-13.6 z" fill="#fff" stroke="#0000ff" stroke-width="1.25"/>
<path d="M224.6,323.3 l6.8,11.8 h-13.6 z" fill="#fff" stroke="#0000ff" stroke-width="1.25"/>
<path d="M257.9,313.5 l6.8,11.8 h-13.6 z" fill="#fff" stroke="#0000ff" stroke-width="1.25"/>
<path d="M288.0,307.7 l6.8,11.8 h-13.6 z" fill="#fff" stroke="#0000ff" stroke-width="1.25"/>
<path d="M320.1,301.2 l6.8,11.8 h-13.6 z" fill="#fff" stroke="#0000ff" stroke-width="1.25"/>
<path d="M374.6,291.5 l6.8,11.8 h-13.6 z" fill="#fff" stroke="#0000ff" stroke-width="1.25"/>
<path d="M423.7,285.6 l6.8,11.8 h-13.6 z" fill="#fff" stroke="#0000ff" stroke-width="1.25"/>
<path d="M463.9,280.7 l6.8,11.8 h-13.6 z" fill="#fff" stroke="#0000ff" stroke-width="1.25"/>
<path d="M577.8,269.3 l6.8,11.8 h-13.6 z" fill="#fff" stroke="#0000ff" stroke-width="1.25"/>
<path d="M591.7,268.1 l6.8,11.8 h-13.6 z" fill="#fff" stroke="#0000ff" stroke-width="1.25"/>
<path d="M671.5,261.2 l6.8,11.8 h-13.6 z" fill="#fff" stroke="#0000ff" stroke-width="1.25"/>
<path d="M734.5,255.5 l6.8,11.8 h-13.6 z" fill="#fff" stroke="#0000ff" stroke-width="1.25"/>
<path d="M741.3,255.5 l6.8,11.8 h-13.6 z" fill="#fff" stroke="#0000ff" stroke-width="1.25"/>
<path d="M775.0,254.7 l6.8,11.8 h-13.6 z" fill="#fff" stroke="#0000ff" stroke-width="1.25"/>
<line x1="114.1" y1="581.3" x2="114.1" y2="471.6" stroke="#ff0000" stroke-width="1.3"/>
<line x1="176.2" y1="581.3" x2="203.0" y2="54.6" stroke="#ff0000" stroke-width="2.2" stroke-dasharray="9.7 8.9" stroke-dashoffset="-3"/>
<line x1="742.2" y1="581.3" x2="769.0" y2="54.6" stroke="#ff0000" stroke-width="2.2" stroke-dasharray="9.7 8.9" stroke-dashoffset="-3"/>
<line x1="176.2" y1="581.3" x2="229.7" y2="54.6" stroke="#000000" stroke-width="2.2" stroke-dasharray="11 5 2.6 5" stroke-dashoffset="0"/>
<line x1="742.2" y1="581.3" x2="795.7" y2="54.6" stroke="#000000" stroke-width="2.2" stroke-dasharray="11 5 2.6 5" stroke-dashoffset="0"/>
<line x1="197.2" y1="581.3" x2="224.0" y2="54.6" stroke="#ff0000" stroke-width="2.8"/>
<line x1="197.2" y1="581.3" x2="250.7" y2="54.6" stroke="#000000" stroke-width="2.4"/>
<polygon points="176.2,581.3 203.0,54.6 770.3,54.6 743.5,581.3" fill="rgb(252,226,228)" style="mix-blend-mode:multiply"/>
<polygon points="176.2,581.3 229.7,54.6 795.2,54.6 741.7,581.3" fill="rgb(212,217,227)" style="mix-blend-mode:multiply"/>
</g>
<text transform="translate(101.3,590.7) scale(0.965,1)" font-family="Liberation Serif, Times New Roman, serif" font-size="32.6" text-anchor="end">0</text>
<text transform="translate(101.3,524.9) scale(0.965,1)" font-family="Liberation Serif, Times New Roman, serif" font-size="32.6" text-anchor="end">30</text>
<text transform="translate(101.3,459.0) scale(0.965,1)" font-family="Liberation Serif, Times New Roman, serif" font-size="32.6" text-anchor="end">60</text>
<text transform="translate(101.3,393.2) scale(0.965,1)" font-family="Liberation Serif, Times New Roman, serif" font-size="32.6" text-anchor="end">90</text>
<text transform="translate(101.3,327.3) scale(0.965,1)" font-family="Liberation Serif, Times New Roman, serif" font-size="32.6" text-anchor="end">120</text>
<text transform="translate(101.3,261.5) scale(0.965,1)" font-family="Liberation Serif, Times New Roman, serif" font-size="32.6" text-anchor="end">150</text>
<text transform="translate(101.3,195.7) scale(0.965,1)" font-family="Liberation Serif, Times New Roman, serif" font-size="32.6" text-anchor="end">180</text>
<text transform="translate(101.3,129.8) scale(0.965,1)" font-family="Liberation Serif, Times New Roman, serif" font-size="32.6" text-anchor="end">210</text>
<text transform="translate(101.3,64.0) scale(0.965,1)" font-family="Liberation Serif, Times New Roman, serif" font-size="32.6" text-anchor="end">240</text>
<text transform="translate(113.1,616.6) scale(0.965,1)" font-family="Liberation Serif, Times New Roman, serif" font-size="32.6" text-anchor="middle">0.0</text>
<text transform="translate(196.9,616.6) scale(0.965,1)" font-family="Liberation Serif, Times New Roman, serif" font-size="32.6" text-anchor="middle">0.2</text>
<text transform="translate(280.7,616.6) scale(0.965,1)" font-family="Liberation Serif, Times New Roman, serif" font-size="32.6" text-anchor="middle">0.4</text>
<text transform="translate(364.4,616.6) scale(0.965,1)" font-family="Liberation Serif, Times New Roman, serif" font-size="32.6" text-anchor="middle">0.6</text>
<text transform="translate(448.2,616.6) scale(0.965,1)" font-family="Liberation Serif, Times New Roman, serif" font-size="32.6" text-anchor="middle">0.8</text>
<text transform="translate(532.0,616.6) scale(0.965,1)" font-family="Liberation Serif, Times New Roman, serif" font-size="32.6" text-anchor="middle">1.0</text>
<text transform="translate(615.8,616.6) scale(0.965,1)" font-family="Liberation Serif, Times New Roman, serif" font-size="32.6" text-anchor="middle">1.2</text>
<text transform="translate(699.6,616.6) scale(0.965,1)" font-family="Liberation Serif, Times New Roman, serif" font-size="32.6" text-anchor="middle">1.4</text>
<text transform="translate(783.3,616.6) scale(0.965,1)" font-family="Liberation Serif, Times New Roman, serif" font-size="32.6" text-anchor="middle">1.6</text>
<text x="316.6" y="667.7" font-family="Liberation Serif, Times New Roman, serif" font-size="31.3" textLength="204.6" lengthAdjust="spacingAndGlyphs">Crack Extension</text>
<text x="522.5" y="668.9" font-family="Noto Sans CJK SC, DejaVu Sans, sans-serif" font-size="28.2">△</text>
<text x="552.6" y="667.7" font-family="Liberation Serif, Times New Roman, serif" font-size="31.3" textLength="68.4" lengthAdjust="spacingAndGlyphs">a/mm</text>
<text transform="translate(32,394.6) rotate(-90)" font-family="Liberation Serif, Times New Roman, serif" font-size="32.3" textLength="111.5" lengthAdjust="spacingAndGlyphs">J/(kJ/m<tspan font-size="20" dy="-14">2</tspan><tspan dy="14">)</tspan></text>
<line x1="143.3" y1="35.0" x2="191.1" y2="72.0" stroke="#ff0000" stroke-width="2.9"/>
<polygon points="198.6,77.8 187.6,74.9 193.0,67.9" fill="#ff0000"/>
<line x1="289.2" y1="12.6" x2="229.6" y2="59.4" stroke="#ff0000" stroke-width="2.9"/>
<polygon points="222.1,65.3 227.6,55.4 233.1,62.3" fill="#ff0000"/>
<line x1="284.9" y1="71.9" x2="231.4" y2="93.4" stroke="#000000" stroke-width="2.4"/>
<polygon points="223.5,96.6 231.0,89.7 233.7,96.4" fill="#000000"/>
<line x1="288.9" y1="123.8" x2="244.3" y2="163.8" stroke="#000000" stroke-width="2.4"/>
<polygon points="238.0,169.5 242.7,160.5 247.5,165.8" fill="#000000"/>
<line x1="688.5" y1="33.1" x2="759.7" y2="66.1" stroke="#ff0000" stroke-width="2.9"/>
<polygon points="768.3,70.1 756.9,69.7 760.6,61.7" fill="#ff0000"/>
<line x1="706.4" y1="81.6" x2="781.2" y2="88.9" stroke="#000000" stroke-width="2.4"/>
<polygon points="789.7,89.7 779.9,92.4 780.6,85.2" fill="#000000"/>
<line x1="829.0" y1="106.3" x2="772.5" y2="106.0" stroke="#ff0000" stroke-width="2.9"/>
<polygon points="763.0,105.9 773.5,101.6 773.5,110.4" fill="#ff0000"/>
<line x1="829.0" y1="142.9" x2="769.4" y2="109.7" stroke="#000000" stroke-width="2.4"/>
<polygon points="762.0,105.6 772.1,107.1 768.5,113.4" fill="#000000"/>
<line x1="818.5" y1="194.8" x2="769.6" y2="212.0" stroke="#ff0000" stroke-width="2.9"/>
<polygon points="760.6,215.1 769.1,207.5 772.0,215.8" fill="#ff0000"/>
<line x1="816.6" y1="230.6" x2="758.4" y2="224.3" stroke="#000000" stroke-width="2.4"/>
<polygon points="749.9,223.4 759.7,220.8 759.0,228.0" fill="#000000"/>
<line x1="821.4" y1="272.7" x2="763.2" y2="249.2" stroke="#ff0000" stroke-width="2.9"/>
<polygon points="754.4,245.6 765.8,245.5 762.5,253.6" fill="#ff0000"/>
<line x1="824.3" y1="306.5" x2="731.6" y2="263.1" stroke="#000000" stroke-width="2.4"/>
<polygon points="723.9,259.5 734.0,260.3 731.0,266.8" fill="#000000"/>
<line x1="213.0" y1="270.3" x2="271.1" y2="389.9" stroke="#ff0000" stroke-width="2.6"/>
<polygon points="275.0,398.0 267.5,390.5 273.8,387.5" fill="#ff0000"/>
<line x1="209.4" y1="327.4" x2="268.7" y2="437.6" stroke="#000000" stroke-width="2.4"/>
<polygon points="273.0,445.5 265.2,438.4 271.3,435.0" fill="#000000"/>
<line x1="209.4" y1="345.2" x2="266.5" y2="489.6" stroke="#0000ff" stroke-width="2.4"/>
<polygon points="269.8,498.0 262.9,490.0 269.4,487.4" fill="#0000ff"/>
<line x1="231.0" y1="257.6" x2="470.8" y2="323.2" stroke="#ff0000" stroke-width="2.6" stroke-dasharray="14 8.6"/>
<polygon points="479.5,325.6 468.8,326.8 470.9,319.1" fill="#ff0000"/>
<line x1="225.0" y1="317.8" x2="456.7" y2="356.3" stroke="#000000" stroke-width="2.6" stroke-dasharray="14 8.6"/>
<polygon points="465.6,357.8 455.1,360.1 456.4,352.2" fill="#000000"/>
<line x1="224.0" y1="340.5" x2="463.6" y2="383.4" stroke="#0000ff" stroke-width="2.6" stroke-dasharray="14 8.6"/>
<polygon points="472.5,385.0 462.0,387.2 463.4,379.3" fill="#0000ff"/>
<text x="99.3" y="23.6" font-family="Liberation Serif, Times New Roman, serif" font-weight="bold" font-size="29.5" font-style="italic" fill="#ff0000">l</text>
<text x="107.0" y="28.6" font-family="Liberation Serif, Times New Roman, serif" font-weight="bold" font-size="19" fill="#ff0000" textLength="79.5" lengthAdjust="spacingAndGlyphs">0.15(ISO)</text>
<text x="299.0" y="24.2" font-family="Liberation Serif, Times New Roman, serif" font-weight="bold" font-size="29.5" font-style="italic" fill="#ff0000">l</text>
<text x="308.6" y="29.0" font-family="Liberation Serif, Times New Roman, serif" font-weight="bold" font-size="19" fill="#ff0000" textLength="69.0" lengthAdjust="spacingAndGlyphs">0.2(ISO)</text>
<text x="294.6" y="82.4" font-family="Liberation Serif, Times New Roman, serif" font-weight="bold" font-size="29.5" font-style="italic" fill="#000000">l</text>
<text x="303.6" y="87.8" font-family="Liberation Serif, Times New Roman, serif" font-weight="bold" font-size="19" fill="#000000" textLength="102.0" lengthAdjust="spacingAndGlyphs">0.15(ASTM)</text>
<text x="298.5" y="133.4" font-family="Liberation Serif, Times New Roman, serif" font-weight="bold" font-size="29.5" font-style="italic" fill="#000000">l</text>
<text x="307.5" y="139.2" font-family="Liberation Serif, Times New Roman, serif" font-weight="bold" font-size="19" fill="#000000" textLength="92.2" lengthAdjust="spacingAndGlyphs">0.2(ASTM)</text>
<text x="606.2" y="27.6" font-family="Liberation Serif, Times New Roman, serif" font-weight="bold" font-size="29.5" font-style="italic" fill="#ff0000">l</text>
<text x="616.0" y="34.4" font-family="Liberation Serif, Times New Roman, serif" font-weight="bold" font-size="19" fill="#ff0000" textLength="68.5" lengthAdjust="spacingAndGlyphs">1.5(ISO)</text>
<text x="588.3" y="82.9" font-family="Liberation Serif, Times New Roman, serif" font-weight="bold" font-size="29.5" font-style="italic" fill="#000000">l</text>
<text x="598.0" y="89.7" font-family="Liberation Serif, Times New Roman, serif" font-weight="bold" font-size="19" fill="#000000" textLength="90.8" lengthAdjust="spacingAndGlyphs">1.5(ASTM)</text>
<text x="839.2" y="116.4" font-family="Liberation Serif, Times New Roman, serif" font-weight="bold" font-size="26.2" fill="#ff0000" textLength="68.5" lengthAdjust="spacingAndGlyphs">(J-Δa)</text>
<text x="909.0" y="121.6" font-family="Liberation Serif, Times New Roman, serif" font-weight="bold" font-size="17.2" fill="#ff0000" textLength="67.3" lengthAdjust="spacingAndGlyphs">ave(ISO)</text>
<text x="839.2" y="152.6" font-family="Liberation Serif, Times New Roman, serif" font-weight="bold" font-size="26.2" fill="#000000" textLength="68.5" lengthAdjust="spacingAndGlyphs">(J-Δa)</text>
<text x="909.0" y="158.3" font-family="Liberation Serif, Times New Roman, serif" font-weight="bold" font-size="17.2" fill="#000000" textLength="86.3" lengthAdjust="spacingAndGlyphs">ave(ASTM)</text>
<text x="828.8" y="204.4" font-family="Liberation Serif, Times New Roman, serif" font-weight="bold" font-size="26.2" fill="#ff0000" textLength="68.3" lengthAdjust="spacingAndGlyphs">(J-Δa)</text>
<text x="897.0" y="209.2" font-family="Liberation Serif, Times New Roman, serif" font-weight="bold" font-size="17.2" fill="#ff0000" textLength="98.8" lengthAdjust="spacingAndGlyphs"><tspan font-style="italic" font-weight="normal">p</tspan>=95% (ISO)</text>
<text x="828.4" y="239.7" font-family="Liberation Serif, Times New Roman, serif" font-weight="bold" font-size="26.2" fill="#000000" textLength="68.6" lengthAdjust="spacingAndGlyphs">(J-Δa)</text>
<text x="897.0" y="245.3" font-family="Liberation Serif, Times New Roman, serif" font-weight="bold" font-size="17.2" fill="#000000" textLength="119.3" lengthAdjust="spacingAndGlyphs"><tspan font-style="italic" font-weight="normal">p</tspan>=95% (ASTM)</text>
<text x="828.8" y="284.0" font-family="Liberation Serif, Times New Roman, serif" font-weight="bold" font-size="26.2" fill="#ff0000" textLength="68.3" lengthAdjust="spacingAndGlyphs">(J-Δa)</text>
<text x="897.0" y="289.2" font-family="Liberation Serif, Times New Roman, serif" font-weight="bold" font-size="17.2" fill="#ff0000" textLength="98.8" lengthAdjust="spacingAndGlyphs"><tspan font-style="italic" font-weight="normal">p</tspan>=99% (ISO)</text>
<text x="829.4" y="325.0" font-family="Liberation Serif, Times New Roman, serif" font-weight="bold" font-size="26.2" fill="#000000" textLength="69.0" lengthAdjust="spacingAndGlyphs">(J-Δa)</text>
<text x="898.2" y="330.4" font-family="Liberation Serif, Times New Roman, serif" font-weight="bold" font-size="17.2" fill="#000000" textLength="118.8" lengthAdjust="spacingAndGlyphs"><tspan font-style="italic" font-weight="normal">p</tspan>=99% (ASTM)</text>
<text x="491.2" y="323.8" font-family="Liberation Serif, Times New Roman, serif" font-weight="bold" font-size="27" fill="#000" textLength="13.6" lengthAdjust="spacingAndGlyphs">J</text>
<text x="505.4" y="328.8" font-family="Liberation Serif, Times New Roman, serif" font-weight="bold" font-size="17.1" fill="#000" textLength="108.8" lengthAdjust="spacingAndGlyphs">IC(ave,ASTM)</text>
<text x="487.9" y="364.1" font-family="Liberation Serif, Times New Roman, serif" font-weight="bold" font-size="27" fill="#000" textLength="13.6" lengthAdjust="spacingAndGlyphs">J</text>
<text x="502.0" y="369.6" font-family="Liberation Serif, Times New Roman, serif" font-weight="bold" font-size="17.1" fill="#000" textLength="137.4" lengthAdjust="spacingAndGlyphs">IC(<tspan font-style="italic" font-weight="normal">p</tspan>=95%,ASTM)</text>
<text x="483.4" y="416.5" font-family="Liberation Serif, Times New Roman, serif" font-weight="bold" font-size="27" fill="#000" textLength="13.6" lengthAdjust="spacingAndGlyphs">J</text>
<text x="497.5" y="422.5" font-family="Liberation Serif, Times New Roman, serif" font-weight="bold" font-size="17.1" fill="#000" textLength="137.4" lengthAdjust="spacingAndGlyphs">IC(<tspan font-style="italic" font-weight="normal">p</tspan>=99%,ASTM)</text>
<text x="290.2" y="414.6" font-family="Liberation Serif, Times New Roman, serif" font-weight="bold" font-size="27" fill="#000" textLength="13.6" lengthAdjust="spacingAndGlyphs">J</text>
<text x="303.9" y="420.0" font-family="Liberation Serif, Times New Roman, serif" font-weight="bold" font-size="17.1" fill="#000" textLength="89.2" lengthAdjust="spacingAndGlyphs">IC(ave,ISO)</text>
<text x="286.8" y="455.6" font-family="Liberation Serif, Times New Roman, serif" font-weight="bold" font-size="27" fill="#000" textLength="13.6" lengthAdjust="spacingAndGlyphs">J</text>
<text x="300.3" y="461.2" font-family="Liberation Serif, Times New Roman, serif" font-weight="bold" font-size="17.1" fill="#000" textLength="117.8" lengthAdjust="spacingAndGlyphs">IC(<tspan font-style="italic" font-weight="normal">p</tspan>=95%,ISO)</text>
<text x="282.4" y="507.6" font-family="Liberation Serif, Times New Roman, serif" font-weight="bold" font-size="27" fill="#000" textLength="13.6" lengthAdjust="spacingAndGlyphs">J</text>
<text x="296.5" y="513.2" font-family="Liberation Serif, Times New Roman, serif" font-weight="bold" font-size="17.1" fill="#000" textLength="117.3" lengthAdjust="spacingAndGlyphs">IC(<tspan font-style="italic" font-weight="normal">p</tspan>=99%,ISO)</text>
<text x="554.8" y="543.0" font-family="Liberation Serif, Times New Roman, serif" font-weight="bold" font-size="25.7" fill="#000" textLength="164.3" lengthAdjust="spacingAndGlyphs">Qualified Data</text>
</svg>
</body></html>
